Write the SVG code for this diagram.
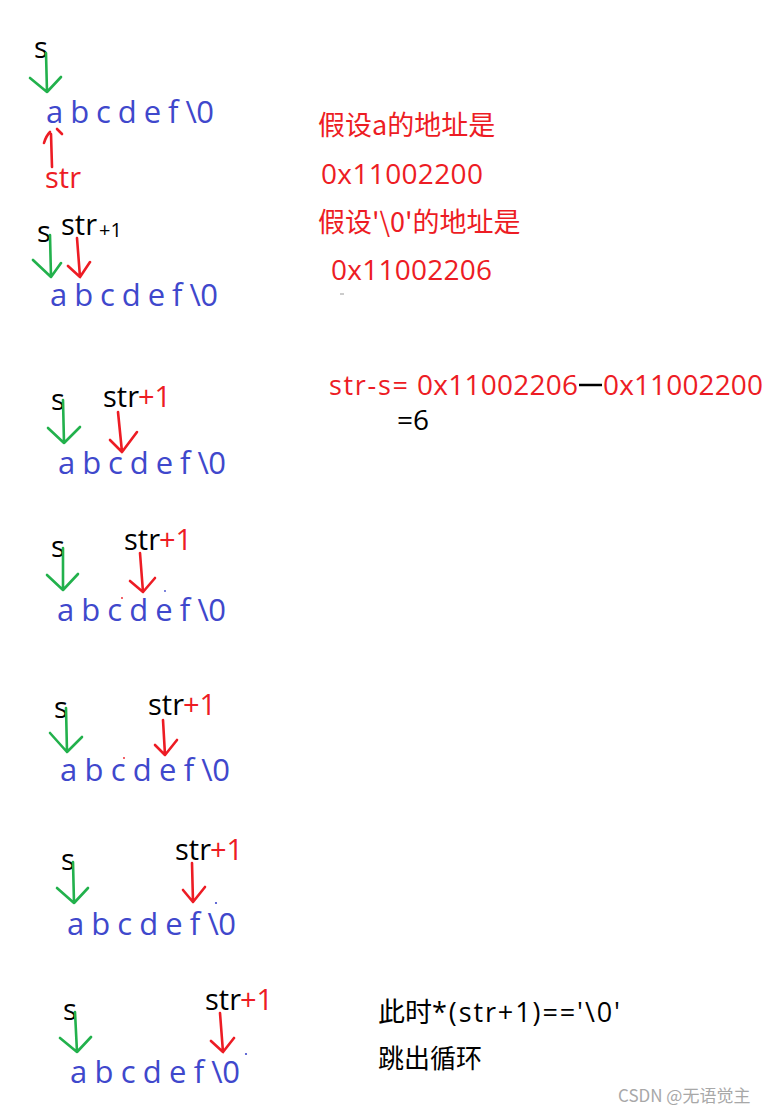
<svg xmlns="http://www.w3.org/2000/svg" width="770" height="1114" viewBox="0 0 770 1114">
<style>
text{font-family:"Open Sans","Noto Sans","Noto Sans CJK SC",sans-serif}
.row{font-size:31px;fill:#3f48cc}
.lbl{font-size:29px;fill:#000}
.red{fill:#ed1c24}
.blk{fill:#000}
.cjk{font-family:"Noto Sans CJK SC","Open Sans",sans-serif}
.lat{font-family:"Open Sans","Noto Sans",sans-serif}
.g{fill:none;stroke:#22b14c;stroke-width:2.6;stroke-linecap:round;stroke-linejoin:round}
.r{fill:none;stroke:#ed1c24;stroke-width:2.6;stroke-linecap:round;stroke-linejoin:round}
</style>
<rect width="770" height="1114" fill="#fff"/>

<g id="step1">
<text class="lbl" x="34" y="58">s</text>
<path class="g" d="M46,53 L47,92 M30,78 L47,92 L61,77"/>
<text class="row" x="46" y="123" textLength="168">a b c d e f \0</text>
<path class="r" d="M52,167 L51,134 M44,143 Q46,136 50,132 M57,129 L62,134"/>
<text class="lbl red" x="45" y="188">str</text>
</g>

<g id="step2">
<text class="lbl" x="37" y="242">s</text>
<text class="lbl" x="61" y="235">str</text>
<text x="99" y="237" font-size="20" fill="#000">+1</text>
<path class="g" d="M50,235 L51,277 M33,260 L51,277 L61,263"/>
<path class="r" d="M77,238 L80,277 M68,266 L80,277 L90,262"/>
<text class="row" x="50" y="306" textLength="168">a b c d e f \0</text>
</g>

<g id="note-address">
<text class="cjk red" x="318" y="135" font-size="27">假设a的地址是</text>
<text class="red" x="321" y="184" font-size="28" textLength="162">0x11002200</text>
<text class="cjk red" x="318" y="232" font-size="27">假设'\0'的地址是</text>
<text class="red" x="331" y="280" font-size="28" textLength="161">0x11002206</text>
<line x1="340" y1="294" x2="344" y2="294" stroke="#999" stroke-width="1"/>
</g>

<g id="note-diff">
<text class="red" x="329" y="395" font-size="27" textLength="79">str-s=</text>
<text class="red" x="417" y="395" font-size="28" textLength="161">0x11002206</text>
<line x1="579" y1="385" x2="602" y2="385" stroke="#000" stroke-width="2.5"/>
<text class="red" x="603" y="395" font-size="28" textLength="160">0x11002200</text>
<text class="blk" x="397" y="430" font-size="28">=6</text>
</g>

<g id="step3">
<text class="lbl" x="51" y="410">s</text>
<text class="lbl" x="103" y="407">str</text>
<text class="red" x="138" y="407" font-size="29">+1</text>
<path class="g" d="M63,400 L64,443 M48,428 L64,443 L80,427"/>
<path class="r" d="M118,412 L122,452 M110,440 L122,452 L137,432"/>
<text class="row" x="58" y="474" textLength="168">a b c d e f \0</text>
</g>

<g id="step4">
<text class="lbl" x="51" y="557">s</text>
<text class="lbl" x="124" y="550">str</text>
<text class="red" x="159" y="550" font-size="29">+1</text>
<path class="g" d="M63,548 L63,590 M47,575 L63,590 L78,574"/>
<path class="r" d="M140,553 L143,592 M130,581 L143,592 L155,578"/>
<text class="row" x="57" y="621" textLength="169">a b c d e f \0</text>
<circle cx="122" cy="598" r="0.9" fill="#ed1c24"/>
<circle cx="165" cy="591" r="0.9" fill="#3f48cc"/>
</g>

<g id="step5">
<text class="lbl" x="54" y="718">s</text>
<text class="lbl" x="148" y="715">str</text>
<text class="red" x="183" y="715" font-size="29">+1</text>
<path class="g" d="M66,708 L67,752 M50,733 L67,752 L82,737"/>
<path class="r" d="M163,720 L165,755 M155,745 L165,755 L177,740"/>
<text class="row" x="60" y="781" textLength="170">a b c d e f \0</text>
<circle cx="124" cy="758" r="0.9" fill="#ed1c24"/>
</g>

<g id="step6">
<text class="lbl" x="61" y="870">s</text>
<text class="lbl" x="175" y="860">str</text>
<text class="red" x="210" y="860" font-size="29">+1</text>
<path class="g" d="M73,862 L74,903 M57,888 L74,903 L88,888"/>
<path class="r" d="M192,863 L193,902 M183,890 L193,902 L205,887"/>
<text class="row" x="67" y="935" textLength="169">a b c d e f \0</text>
<circle cx="216" cy="903" r="1.1" fill="#3f48cc"/>
</g>

<g id="step7">
<text class="lbl" x="63" y="1020">s</text>
<text class="lbl" x="205" y="1010">str</text>
<text class="red" x="240" y="1010" font-size="29">+1</text>
<path class="g" d="M75,1012 L77,1052 M60,1038 L77,1052 L91,1037"/>
<path class="r" d="M220,1013 L223,1052 M211,1041 L223,1052 L234,1038"/>
<text class="row" x="70" y="1083" textLength="170">a b c d e f \0</text>
<circle cx="246" cy="1054" r="1.1" fill="#3f48cc"/>
</g>

<g id="note-exit">
<text class="blk" x="378" y="1022" font-size="27"><tspan class="cjk">此时</tspan><tspan class="lat" textLength="188">*(str+1)=='\0'</tspan></text>
<text class="cjk blk" x="378" y="1068" font-size="26">跳出循环</text>
</g>

<text class="cjk" x="618" y="1102" font-size="17" fill="#a8a8a8">CSDN @无语觉主</text>
</svg>
